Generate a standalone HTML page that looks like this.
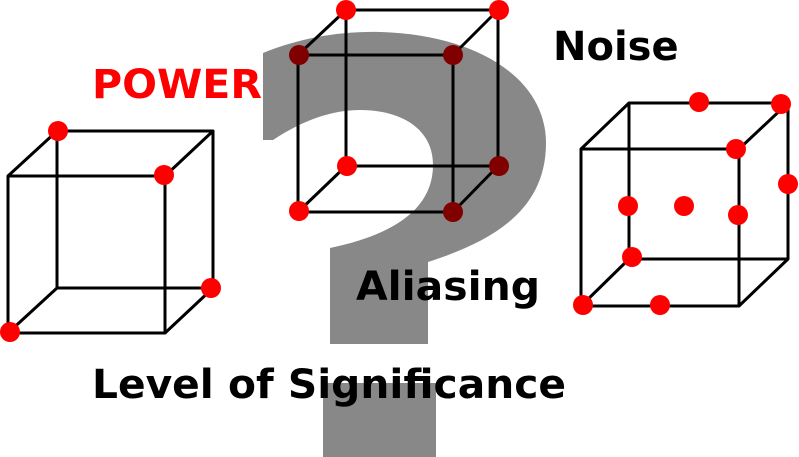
<!DOCTYPE html>
<html><head><meta charset="utf-8"><style>
html,body{margin:0;padding:0;background:#fff;width:799px;height:457px;overflow:hidden}
text{font-family:"DejaVu Sans","Liberation Sans",sans-serif;font-weight:bold}
</style></head><body>
<svg width="799" height="457" viewBox="0 0 799 457" xmlns="http://www.w3.org/2000/svg">
<path d="M263,53 C300,38 340,31 380,32 C480,35 546,80 546,143 C546,212 490,242 428,262 L428,344 L330,344 L330,248 C392,235 433,210 433,165 C433,128 400,110 360,110 C330,110 300,122 273,140 L263,140 Z" fill="#888"/>
<rect x="323" y="383" width="113" height="74" fill="#888"/>
<g stroke="#000" stroke-width="3" fill="none" stroke-linejoin="round">
<!-- left cube -->
<rect x="8" y="176" width="157" height="157"/>
<rect x="57" y="131" width="156" height="157"/>
<path d="M8,176L57,131M165,176L213,131M165,333L213,288M8,333L57,288"/>
<!-- middle cube -->
<rect x="298" y="55" width="155" height="157"/>
<rect x="346" y="10" width="152" height="156"/>
<path d="M298,55L346,10M453,55L498,10M453,212L498,166M298,212L346,166"/>
<!-- right cube -->
<rect x="581" y="149" width="158" height="157"/>
<rect x="629" y="103" width="159" height="156"/>
<path d="M581,149L629,103M739,149L788,103M739,306L788,259M581,306L629,259"/>
</g>
<g fill="#f00">
<circle cx="58" cy="131" r="10"/><circle cx="164" cy="175" r="10"/><circle cx="211" cy="288" r="10"/><circle cx="10" cy="332" r="10"/>
<circle cx="346" cy="10" r="10"/><circle cx="499" cy="10" r="10"/><circle cx="347" cy="166" r="10"/><circle cx="299" cy="211" r="10"/>
<circle cx="699" cy="102" r="10"/><circle cx="781" cy="104" r="10"/><circle cx="736" cy="149" r="10"/><circle cx="788" cy="184" r="10"/><circle cx="628" cy="206" r="10"/><circle cx="684" cy="206" r="10"/><circle cx="738" cy="215" r="10"/><circle cx="632" cy="257" r="10"/><circle cx="583" cy="305" r="10"/><circle cx="660" cy="305" r="10"/>
</g>
<g fill="#800000">
<circle cx="299" cy="55" r="10"/><circle cx="453" cy="55" r="10"/><circle cx="499" cy="166" r="10"/><circle cx="453" cy="212" r="10"/>
</g>
<text x="92" y="98" font-size="40" fill="#f00" textLength="170" lengthAdjust="spacingAndGlyphs">POWER</text>
<text x="553" y="60" font-size="40" fill="#000">Noise</text>
<text x="356" y="300" font-size="40" fill="#000" textLength="184" lengthAdjust="spacingAndGlyphs">Aliasing</text>
<text x="92" y="398" font-size="40" fill="#000" textLength="474" lengthAdjust="spacingAndGlyphs">Level of Significance</text>
</svg>
</body></html>
